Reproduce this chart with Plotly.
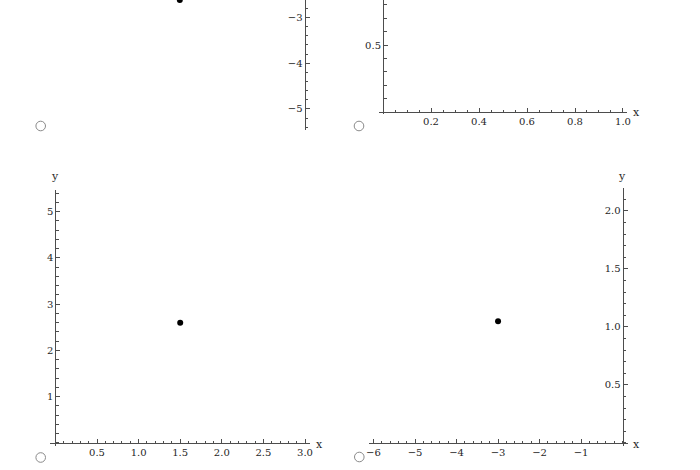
import plotly.graph_objects as go

W, H = 700, 470

# ---- data ----
bl_x = [1.5]
bl_y = [2.6]
br_x = [-3.0]
br_y = [1.05]
tl_x = [-1.5]
tl_y = [-2.62]

# tick labels
bl_xticks = [0.5, 1.0, 1.5, 2.0, 2.5, 3.0]
bl_yticks = [1, 2, 3, 4, 5]
br_xticks = [-6, -5, -4, -3, -2, -1]
br_yticks = [0.5, 1.0, 1.5, 2.0]
tr_xticks = [0.2, 0.4, 0.6, 0.8, 1.0]
tr_yticks = [0.5, 1.0]
tl_yticks = [-5, -4, -3, -2, -1]

FONT = dict(family="DejaVu Serif", size=10, color="#262626")
LINE = "#4d4d4d"


def px(x):
    return x / W


def py(y):
    return 1 - y / H


def xax(domain_px, rng, pos_py, tickvals, fmt, minor_dtick, visible=True):
    return dict(
        domain=[px(domain_px[0]), px(domain_px[1])], range=rng,
        anchor="free", position=py(pos_py) if visible else 0,
        visible=visible, showgrid=False, zeroline=False,
        showline=True, linecolor=LINE, linewidth=1,
        ticks="inside", ticklen=4, tickcolor=LINE, tickwidth=1,
        tickmode="array", tickvals=tickvals, tickformat=fmt,
        tickfont=FONT, side="bottom", automargin=False,
        minor=dict(tickmode="linear", tick0=0, dtick=minor_dtick,
                   ticks="inside", ticklen=2.5, tickcolor=LINE),
    )


def yax(domain_px, rng, pos_px, tickvals, fmt, minor_dtick):
    return dict(
        domain=[py(domain_px[1]), py(domain_px[0])], range=rng,
        anchor="free", position=px(pos_px),
        showgrid=False, zeroline=False,
        showline=True, linecolor=LINE, linewidth=1,
        ticks="inside", ticklen=4, tickcolor=LINE, tickwidth=1,
        tickmode="array", tickvals=tickvals, tickformat=fmt,
        tickfont=FONT, side="left", automargin=False,
        minor=dict(tickmode="linear", tick0=0, dtick=minor_dtick,
                   ticks="inside", ticklen=2.5, tickcolor=LINE),
    )


fig = go.Figure()
mk = dict(color="black", size=6)
fig.add_trace(go.Scatter(x=tl_x, y=tl_y, mode="markers", marker=mk,
                         xaxis="x", yaxis="y", cliponaxis=False))
fig.add_trace(go.Scatter(x=bl_x, y=bl_y, mode="markers", marker=mk,
                         xaxis="x3", yaxis="y3", cliponaxis=False))
fig.add_trace(go.Scatter(x=br_x, y=br_y, mode="markers", marker=mk,
                         xaxis="x4", yaxis="y4", cliponaxis=False))
# top-right panel: its point lies above the visible area
fig.add_trace(go.Scatter(x=[], y=[], mode="markers", marker=mk,
                         xaxis="x2", yaxis="y2"))

layout = dict(
    width=W, height=H, margin=dict(l=0, r=0, t=0, b=0),
    paper_bgcolor="white", plot_bgcolor="white",
    template="none", showlegend=False,
    # top-left
    xaxis=xax([50, 310], [-3.06, 0.065], 0, [-3, -2, -1], "d", 0.1, visible=False),
    yaxis=yax([0, 130], [-5.459, -2.6195], 304.6, tl_yticks, "d", 0.2),
    # top-right
    xaxis2=xax([379, 627], [-0.0167, 1.0167], 112, tr_xticks, ".1f", 0.05),
    yaxis2=yax([0, 114], [-0.0149, 0.836], 383, tr_yticks, ".1f", 0.1),
    # bottom-left
    xaxis3=xax([50, 310], [-0.065, 3.06], 443, bl_xticks, ".1f", 0.1),
    yaxis3=yax([190, 446], [-0.065, 5.47], 55.4, bl_yticks, "d", 0.2),
    # bottom-right
    xaxis4=xax([368.5, 628], [-6.12, 0.13], 443, br_xticks, "d", 0.2),
    yaxis4=yax([188, 446], [-0.026, 2.198], 622.6, br_yticks, ".1f", 0.1),
)
fig.update_layout(**layout)

LBL = dict(family="DejaVu Serif", size=11, color="#262626")
labels = [("x", 319, 444), ("y", 54.5, 177), ("x", 636.5, 112),
          ("x", 636.5, 444), ("y", 621.5, 177)]
for t, lx, ly in labels:
    fig.add_annotation(text=t, x=px(lx), y=py(ly), xref="paper", yref="paper",
                       showarrow=False, font=LBL, xanchor="center", yanchor="middle")

# option radio circles
r = 4.8
for cx, cy in [(40.7, 126), (359, 126), (40.7, 457.5), (359.3, 457)]:
    fig.add_shape(type="circle", xref="paper", yref="paper",
                  x0=px(cx - r), x1=px(cx + r), y0=py(cy + r), y1=py(cy - r),
                  line=dict(color="#8a8a8a", width=1), fillcolor="white")

fig.write_html(
    "out.html",
    config={"displayModeBar": False},
    post_script="document.body.style.margin='0';document.body.style.overflow='hidden';",
)
